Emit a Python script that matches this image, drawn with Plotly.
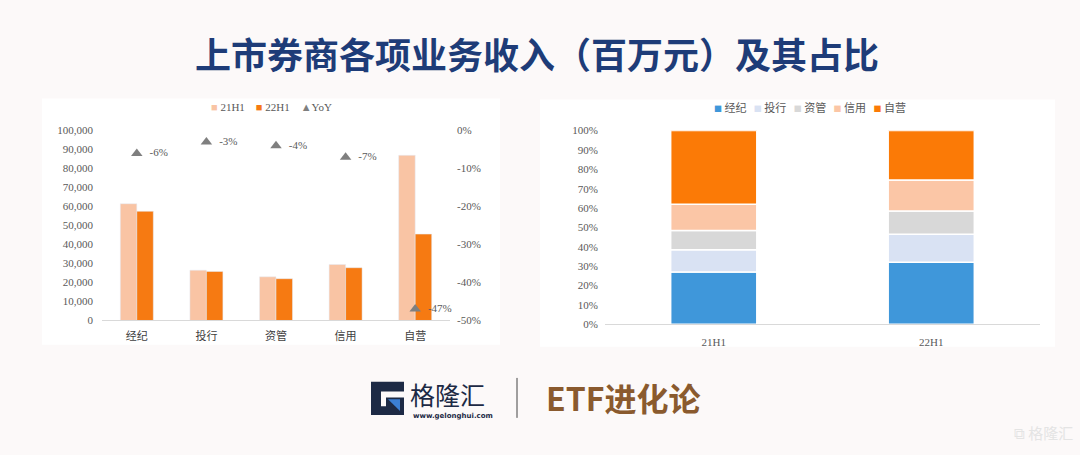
import numpy as np
import plotly.graph_objects as go

# ---------------- data ----------------
categories = ["经纪", "投行", "资管", "信用", "自营"]
rev_21h1 = [61500, 26500, 23000, 29500, 87000]
rev_22h1 = [57500, 25800, 22000, 27800, 45500]
yoy = [-0.06, -0.03, -0.04, -0.07, -0.47]
yoy_labels = ["-6%", "-3%", "-4%", "-7%", "-47%"]

periods = ["21H1", "22H1"]
share_jingji = [27.0, 32.0]
share_touhang = [11.5, 14.5]
share_ziguan = [10.0, 12.0]
share_xinyong = [13.5, 16.0]
share_ziying = [38.0, 25.5]

left_ticks = [0, 10000, 20000, 30000, 40000, 50000, 60000, 70000, 80000, 90000, 100000]
right_ticks = [0, -0.1, -0.2, -0.3, -0.4, -0.5]
right_tick_labels = ["0%", "-10%", "-20%", "-30%", "-40%", "-50%"]
pct_ticks = [0, 10, 20, 30, 40, 50, 60, 70, 80, 90, 100]

# ---------------- styles ----------------
W, H = 1080, 455
C21 = "#f9c4a4"
C22 = "#f67a12"
CTRI = "#7f7f7f"
share_colors = ["#3f97da", "#d9e2f3", "#d8d8d8", "#fbc6a6", "#fb7a06"]
SERIF = "Liberation Serif, Times New Roman, serif"
CJK = "Noto Sans CJK SC, sans-serif"
TICK = "#595959"


def px(x):
    return x / W


def py(y):
    return 1 - y / H


fig = go.Figure()

# left chart bars
fig.add_trace(go.Bar(x=categories, y=rev_21h1, name="21H1", marker_color=C21,
                     width=0.237, offset=-0.237, xaxis="x", yaxis="y", showlegend=False))
fig.add_trace(go.Bar(x=categories, y=rev_22h1, name="22H1", marker_color=C22,
                     width=0.237, offset=0, xaxis="x", yaxis="y", showlegend=False))
fig.add_trace(go.Scatter(x=categories, y=yoy, name="YoY", mode="markers+text",
                         marker=dict(symbol="triangle-up", size=10, color=CTRI),
                         text=["  " + t for t in yoy_labels], textposition="middle right",
                         textfont=dict(family=SERIF, size=11, color=TICK),
                         xaxis="x", yaxis="y2", showlegend=False, cliponaxis=False))

# right chart stacked bars
shares = [share_jingji, share_touhang, share_ziguan, share_xinyong, share_ziying]
bases = np.vstack([np.zeros(2), np.cumsum(np.array(shares), axis=0)[:-1]])
for i, (vals, name) in enumerate(zip(shares, categories)):
    fig.add_trace(go.Bar(x=periods, y=vals, base=bases[i], name=name,
                         marker=dict(color=share_colors[i], line=dict(color="white", width=1.5)),
                         width=0.396, xaxis="x3", yaxis="y3", showlegend=False))

axis_common = dict(showgrid=False, zeroline=False, ticks="", fixedrange=True)

fig.update_layout(
    width=W, height=H,
    margin=dict(l=0, r=0, t=0, b=0),
    paper_bgcolor="#fcf9f9",
    plot_bgcolor="rgba(0,0,0,0)",
    barmode="overlay",
    xaxis=dict(domain=[px(102), px(450)], range=[-0.5, 4.5], anchor="y",
               showline=True, linecolor="#d9d9d9", linewidth=1,
               tickfont=dict(family=CJK, size=11, color="#404040"), ticklabelstandoff=5,
               **axis_common),
    yaxis=dict(domain=[py(323), py(128)], range=[0, 100000], tickvals=left_ticks,
               tickformat=",d", showline=False,
               tickfont=dict(family=SERIF, size=11, color=TICK), ticklabelstandoff=8,
               **axis_common),
    yaxis2=dict(domain=[py(323), py(128)], range=[-0.5, 0], overlaying="y", side="right",
                anchor="x", tickvals=right_ticks, ticktext=right_tick_labels, showline=False,
                tickfont=dict(family=SERIF, size=11, color=TICK), ticklabelstandoff=6,
                **axis_common),
    xaxis3=dict(domain=[px(605), px(1040)], range=[-0.5, 1.5], anchor="y3",
                showline=True, linecolor="#d9d9d9", linewidth=1,
                tickfont=dict(family=SERIF, size=11, color=TICK), ticklabelstandoff=7,
                **axis_common),
    yaxis3=dict(domain=[py(327), py(128)], range=[0, 100], anchor="x3",
                tickvals=pct_ticks, ticktext=[f"{v}%" for v in pct_ticks], showline=False,
                tickfont=dict(family=SERIF, size=11, color=TICK), ticklabelstandoff=6,
                **axis_common),
)

shapes = [
    # white panels
    dict(type="rect", xref="paper", yref="paper", x0=px(42), x1=px(500), y0=py(348), y1=py(95),
         fillcolor="white", line=dict(width=0), layer="below"),
    dict(type="rect", xref="paper", yref="paper", x0=px(540), x1=px(1055), y0=py(350), y1=py(96),
         fillcolor="white", line=dict(width=0), layer="below"),
    # footer separator
    dict(type="line", xref="paper", yref="paper", x0=px(517), x1=px(517), y0=py(382), y1=py(423),
         line=dict(color="#444444", width=1)),
    # logo icon (G shape)
    dict(type="path", xref="paper", yref="paper",
         path=(f"M {px(371)},{py(386)} L {px(404)},{py(386)} L {px(404)},{py(396)} "
               f"L {px(381)},{py(396)} L {px(381)},{py(411)} L {px(386)},{py(411)} "
               f"L {px(386)},{py(402)} L {px(404)},{py(402)} L {px(404)},{py(420)} "
               f"L {px(371)},{py(420)} Z"),
         fillcolor="#1d2a45", line=dict(width=0)),
    dict(type="path", xref="paper", yref="paper",
         path=f"M {px(388)},{py(404)} L {px(400)},{py(404)} L {px(400)},{py(416)} Z",
         fillcolor="#3b7fd4", line=dict(width=0)),
]

annotations = [
    dict(text="<b>上市券商各项业务收入（百万元）及其占比</b>", x=px(537), y=py(48),
         xref="paper", yref="paper", showarrow=False, xanchor="center", yanchor="middle",
         font=dict(family=CJK, size=36, color="#1e3c78")),
    dict(text=(f'<span style="color:{C21}">■</span> 21H1    '
               f'<span style="color:{C22}">■</span> 22H1    '
               f'<span style="color:{CTRI}">▲</span>YoY'),
         x=px(271), y=py(104), xref="paper", yref="paper", showarrow=False,
         xanchor="center", yanchor="middle", font=dict(family=SERIF, size=11, color=TICK)),
    dict(text="   ".join(f'<span style="color:{c};font-size:8px">■</span> {n}'
                          for c, n in zip(share_colors, categories)),
         x=px(810), y=py(104), xref="paper", yref="paper", showarrow=False,
         xanchor="center", yanchor="middle", font=dict(family=CJK, size=11, color=TICK)),
    dict(text="格隆汇", x=px(408), y=py(398), xref="paper", yref="paper", showarrow=False,
         xanchor="left", yanchor="middle", font=dict(family=CJK, size=25, color="#1d2a45")),
    dict(text="<b>www.gelonghui.com</b>", x=px(411), y=py(421), xref="paper", yref="paper",
         showarrow=False, xanchor="left", yanchor="middle",
         font=dict(family="DejaVu Sans, sans-serif", size=7, color="#1d2a45")),
    dict(text="<b>ETF进化论</b>", x=px(544), y=py(402), xref="paper", yref="paper",
         showarrow=False, xanchor="left", yanchor="middle",
         font=dict(family=CJK, size=32, color="#8a5a2e")),
    dict(text="⧉ 格隆汇", x=px(1075), y=py(438), xref="paper", yref="paper",
         showarrow=False, xanchor="right", yanchor="middle",
         font=dict(family=CJK, size=15, color="#e4e4e4")),
]

fig.update_layout(shapes=shapes, annotations=annotations)
fig.write_html("out.html")
